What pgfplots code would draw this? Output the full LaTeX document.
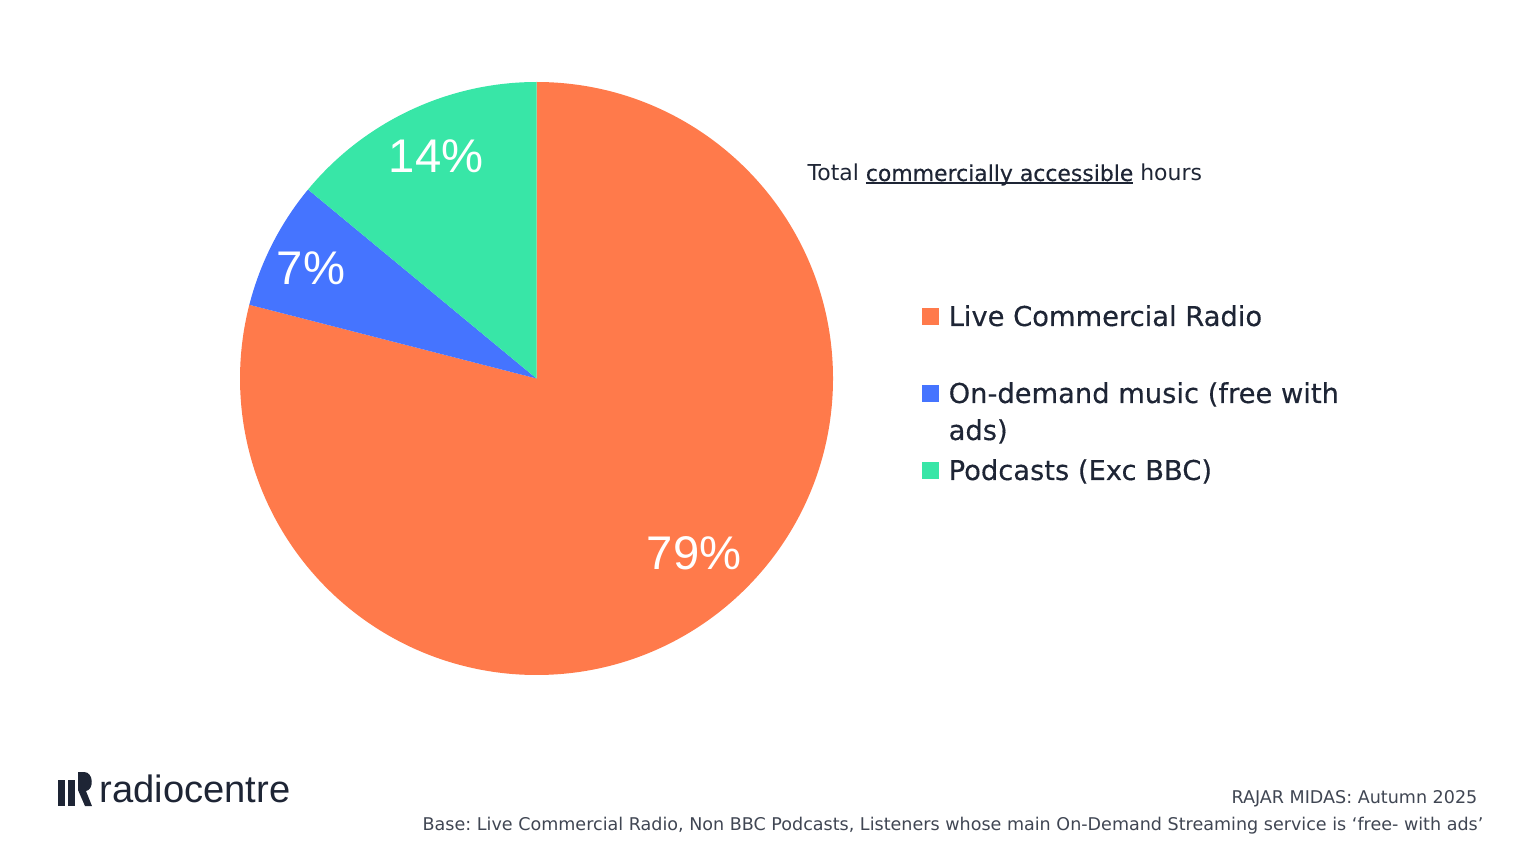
\documentclass[border=0pt]{standalone}
\usepackage{pgfplots}
\pgfplotsset{compat=1.18}
\usepackage{pgfplotstable}
\usepackage{fontspec}
\setmainfont{DejaVu Sans}
\newfontfamily\lib{Liberation Sans}
\newfontfamily\med[FakeBold=0.35]{DejaVu Sans}
\definecolor{cOr}{HTML}{FF7A4B}
\definecolor{cBl}{HTML}{4574FF}
\definecolor{cGr}{HTML}{38E6A7}
\definecolor{cTx}{HTML}{1E2535}
\newcommand\ul[1]{\setbox0\hbox{#1}\rlap{\rule[-0.8pt]{\wd0}{0.55pt}}\box0\relax}
\frenchspacing

\pgfplotstableread{
id value
0 79
1 7
2 14
}\piedata

\begin{document}
\begin{tikzpicture}
\pgfplotstablegetelem{0}{value}\of\piedata\let\vA\pgfplotsretval
\pgfplotstablegetelem{1}{value}\of\piedata\let\vB\pgfplotsretval
\pgfplotstablegetelem{2}{value}\of\piedata\let\vC\pgfplotsretval
\pgfmathsetmacro\aO{90}
\pgfmathsetmacro\aA{\aO-3.6*\vA}
\pgfmathsetmacro\aB{\aA-3.6*\vB}
\pgfmathsetmacro\aC{\aB-3.6*\vC}
\def\R{3.0885cm}
\begin{axis}[scale only axis, width=16cm, height=9cm,
  xmin=0, xmax=1536, ymin=0, ymax=864, hide axis, clip=false]
\path (axis cs:0,0) rectangle (axis cs:1536,864);
% pie
\fill[cOr] (axis cs:536.5,485.5) -- ++(\aO:\R) arc[start angle=\aO, end angle=\aA, radius=\R] -- cycle;
\fill[cBl] (axis cs:536.5,485.5) -- ++(\aA:\R) arc[start angle=\aA, end angle=\aB, radius=\R] -- cycle;
\fill[cGr] (axis cs:536.5,485.5) -- ++(\aB:\R) arc[start angle=\aB, end angle=\aC, radius=\R] -- cycle;
% labels
\node[text=white, font=\lib\fontsize{14}{16}\selectfont] at (axis cs:436,708) {14\%};
\node[text=white, font=\lib\fontsize{14}{16}\selectfont] at (axis cs:311,596) {7\%};
\node[text=white, font=\lib\fontsize{14}{16}\selectfont] at (axis cs:694,311) {79\%};
% title
\node[anchor=base west, text=cTx, font=\fontsize{6.5}{8}\selectfont, inner sep=0] at (axis cs:807,683) {Total \ul{\med commercially accessible} hours};
% legend
\fill[cOr] (axis cs:922,864-308) rectangle (axis cs:939,864-325);
\node[anchor=base west, text=cTx, font=\med\fontsize{8.1}{11}\selectfont, inner sep=0] at (axis cs:948,864-326) {Live Commercial Radio};
\fill[cBl] (axis cs:922,864-385) rectangle (axis cs:939,864-402);
\node[anchor=base west, text=cTx, font=\med\fontsize{8.1}{11}\selectfont, inner sep=0] at (axis cs:948,864-403) {On-demand music (free with};
\node[anchor=base west, text=cTx, font=\med\fontsize{8.1}{11}\selectfont, inner sep=0] at (axis cs:948,864-440) {ads)};
\fill[cGr] (axis cs:922,864-462) rectangle (axis cs:939,864-479);
\node[anchor=base west, text=cTx, font=\med\fontsize{8.1}{11}\selectfont, inner sep=0] at (axis cs:948,864-480) {Podcasts (Exc BBC)};
% logo
\fill[cTx] (axis cs:58,864-780) rectangle (axis cs:65,864-806);
\fill[cTx] (axis cs:68,864-780) rectangle (axis cs:75,864-806);
\fill[cTx] (axis cs:78,864-772) -- (axis cs:84,864-772) .. controls (axis cs:94,864-772) and (axis cs:94,864-790) .. (axis cs:86,864-791) -- (axis cs:92,864-806) -- (axis cs:85,864-806) -- (axis cs:78,864-790) -- cycle;
\node[anchor=base west, text=cTx, font=\lib\fontsize{11.3}{13}\selectfont, inner sep=0] at (axis cs:99,864-802) {radiocentre};
% footer
\node[anchor=base east, text=cTx!85, font=\fontsize{5.2}{6}\selectfont, inner sep=0] at (axis cs:1478,864-803) {RAJAR MIDAS: Autumn 2025};
\node[anchor=base east, text=cTx!85, font=\fontsize{5.2}{6}\selectfont, inner sep=0] at (axis cs:1484,864-830) {Base: Live Commercial Radio, Non BBC Podcasts, Listeners whose main On-Demand Streaming service is ‘free- with ads’};
\end{axis}
\end{tikzpicture}
\end{document}
